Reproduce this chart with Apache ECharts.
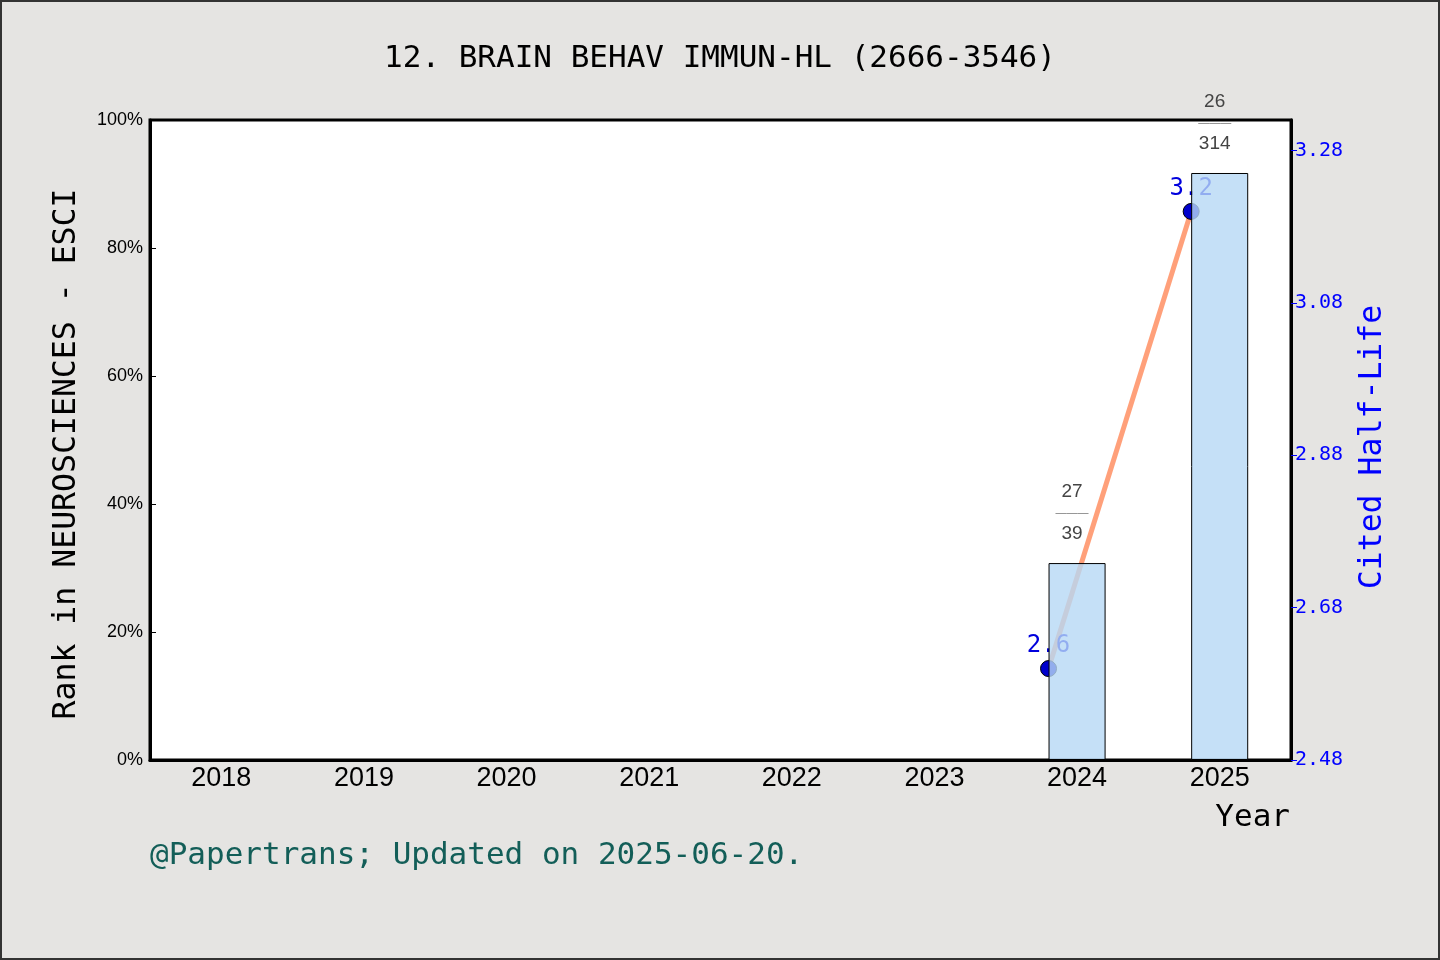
<!DOCTYPE html>
<html lang="en">
<head>
    <meta charset="UTF-8">
    <title>BRAIN BEHAV IMMUN-HL</title>
    <script src="https://cdn.jsdelivr.net/npm/echarts@6/dist/echarts.min.js"></script>
    <style>
        html, body { margin: 0; padding: 0; background: #e5e4e2; }
        #chart { width: 1440px; height: 960px; }
    </style>
</head>
<body>
<div id="chart"></div>
<script type="text/javascript">
    // 数据
    var years = ['2018', '2019', '2020', '2021', '2022', '2023', '2024', '2025'];
    var ranks = [null, null, null, null, null, null, 27, 26];
    var totals = [null, null, null, null, null, null, 39, 314];
    var halfLife = [null, null, null, null, null, null, 2.6, 3.2];

    var mono = 'DejaVu Sans Mono';

    // 柱子高度 = 排名百分位
    var barData = [];
    for (var i = 0; i < years.length; i++) {
        if (ranks[i] == null) {
            barData.push(null);
        } else {
            barData.push({
                value: (totals[i] - ranks[i]) / totals[i],
                rank: ranks[i],
                total: totals[i]
            });
        }
    }
    // 折线点放在柱子左边缘
    var lineData = [];
    for (var j = 0; j < years.length; j++) {
        if (halfLife[j] != null) lineData.push([j - 0.2, halfLife[j]]);
    }

    var myChart = echarts.init(document.getElementById('chart'));
    var option = {
        backgroundColor: '#e5e4e2',
        animation: false,
        title: {
            text: '12. BRAIN BEHAV IMMUN-HL (2666-3546)',
            left: 'center',
            top: 38,
            textStyle: { fontFamily: mono, fontSize: 31, fontWeight: 'normal', color: '#000' }
        },
        grid: {
            left: 150, top: 120, right: 149, bottom: 200,
            show: true,
            backgroundColor: '#fff',
            borderColor: '#000',
            borderWidth: 3
        },
        xAxis: [{
            type: 'category',
            data: years,
            boundaryGap: true,
            axisLine: { lineStyle: { color: '#000', width: 3 } },
            axisTick: { inside: true, length: 6, lineStyle: { color: '#000', width: 1 } },
            axisLabel: { fontFamily: 'Liberation Sans', fontSize: 27, color: '#000', margin: 5 }
        }, {
            type: 'value',
            show: false,
            min: -0.5,
            max: 7.5
        }],
        yAxis: [{
            type: 'value',
            min: 0,
            max: 1,
            interval: 0.2,
            axisLine: { show: true, onZero: false, lineStyle: { color: '#000', width: 3 } },
            axisTick: { show: true, inside: true, length: 6, lineStyle: { color: '#000' } },
            splitLine: { show: false },
            axisLabel: {
                fontFamily: 'Liberation Sans', fontSize: 18, color: '#000', margin: 7,
                formatter: function (v) { return Math.round(v * 100) + '%'; }
            }
        }, {
            type: 'value',
            position: 'right',
            min: 2.48,
            max: 3.32,
            interval: 0.2,
            axisLine: { show: true, onZero: false, lineStyle: { color: '#000', width: 3 } },
            axisTick: { show: true, length: 6, lineStyle: { color: '#0000ff' } },
            splitLine: { show: false },
            axisLabel: {
                fontFamily: mono, fontSize: 20, color: '#0000ff', margin: 4,
                showMaxLabel: false,
                formatter: function (v) { return v.toFixed(2); }
            }
        }],
        series: [{
            type: 'line',
            xAxisIndex: 1,
            yAxisIndex: 1,
            z: 2,
            data: lineData,
            symbol: 'circle',
            symbolSize: 16,
            lineStyle: { color: '#ffa07a', width: 5 },
            itemStyle: { color: '#0000cc', borderColor: '#000', borderWidth: 1 },
            label: {
                show: true,
                position: 'top',
                distance: 2,
                fontFamily: mono,
                fontSize: 24,
                color: '#0000dd',
                formatter: function (p) { return p.value[1].toFixed(1); }
            }
        }, {
            type: 'bar',
            xAxisIndex: 0,
            yAxisIndex: 0,
            z: 3,
            barWidth: '40%',
            data: barData,
            itemStyle: { color: 'rgba(183,216,245,0.8)', borderColor: '#000', borderWidth: 1 },
            label: {
                show: true,
                position: 'top',
                distance: 18,
                offset: [-5, 0],
                formatter: function (p) {
                    return '{a|' + p.data.rank + '}\n{b|\u2014\u2014\u2014}\n{a|' + p.data.total + '}';
                },
                rich: {
                    a: { fontFamily: 'Liberation Sans', fontSize: 19, color: '#444', lineHeight: 22 },
                    b: { fontFamily: 'Liberation Sans', fontSize: 11, color: '#777', lineHeight: 20 }
                }
            }
        }],
        graphic: [{
            type: 'text',
            x: 67,
            y: 454,
            rotation: Math.PI / 2,
            style: {
                text: 'Rank in NEUROSCIENCES - ESCI', fontFamily: mono, fontSize: 31.5, fill: '#000',
                align: 'center', verticalAlign: 'middle'
            }
        }, {
            type: 'text',
            x: 1373,
            y: 447,
            rotation: Math.PI / 2,
            style: {
                text: 'Cited Half-Life', fontFamily: mono, fontSize: 31.5, fill: '#0000ff',
                align: 'center', verticalAlign: 'middle'
            }
        }, {
            type: 'text',
            right: 150,
            top: 802,
            style: { text: 'Year', fontFamily: mono, fontSize: 31, fill: '#000' }
        }, {
            type: 'text',
            left: 150,
            top: 840,
            style: { text: '@Papertrans; Updated on 2025-06-20.', fontFamily: mono, fontSize: 31, fill: '#135e58' }
        }, {
            type: 'rect',
            shape: { x: 1, y: 1, width: 1438, height: 958 },
            style: { fill: null, stroke: '#333', lineWidth: 2 }
        }]
    };
    myChart.setOption(option);
</script>
</body>
</html>
